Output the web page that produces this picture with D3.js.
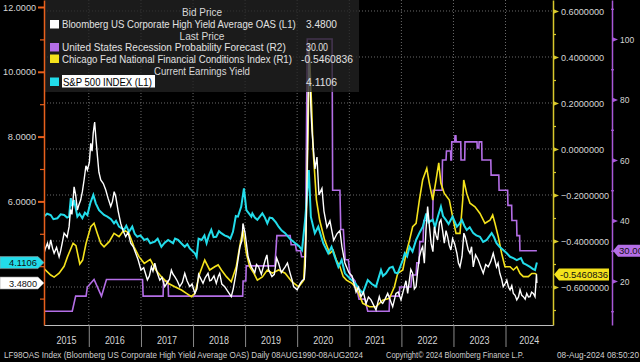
<!DOCTYPE html>
<html>
<head>
<meta charset="utf-8">
<script src="https://cdn.jsdelivr.net/npm/d3@7"></script>
<style>
html, body { margin: 0; padding: 0; background: #000; }
svg { display: block; font-family: "Liberation Sans", Arial, sans-serif; }
</style>
</head>
<body>
<script>
// Bloomberg US Corporate High Yield Average OAS (L1)
var oasData = [
  ["2015-02-21",4.40],["2015-03-03",4.55],["2015-03-17",4.71],["2015-03-28",4.52],["2015-04-09",4.81],
  ["2015-04-22",4.55],["2015-05-03",4.40],["2015-05-20",4.58],["2015-06-07",4.29],["2015-06-18",4.48],
  ["2015-06-28",4.70],["2015-07-12",5.02],["2015-08-02",4.90],["2015-08-16",5.22],["2015-08-26",5.75],
  ["2015-09-05",5.60],["2015-09-20",6.45],["2015-10-01",6.20],["2015-10-13",5.73],["2015-10-24",5.90],
  ["2015-11-05",6.04],["2015-11-17",6.30],["2015-11-29",6.66],["2015-12-12",7.10],["2015-12-22",6.97],
  ["2016-01-05",7.20],["2016-01-15",7.79],["2016-01-24",7.55],["2016-02-01",8.10],["2016-02-11",8.45],
  ["2016-02-19",8.00],["2016-03-02",7.38],["2016-03-12",6.90],["2016-03-25",6.66],["2016-04-12",6.55],
  ["2016-04-29",6.35],["2016-05-15",6.10],["2016-06-03",5.84],["2016-06-15",6.00],["2016-06-27",6.30],
  ["2016-07-08",6.15],["2016-07-25",5.70],["2016-08-12",5.32],["2016-08-28",5.10],["2016-09-16",4.91],
  ["2016-10-02",5.05],["2016-10-21",4.71],["2016-11-08",4.60],["2016-11-25",4.40],["2016-12-12",4.20],
  ["2017-01-01",3.88],["2017-01-20",3.95],["2017-02-15",3.58],["2017-03-01",3.70],["2017-03-15",3.98],
  ["2017-03-26",3.85],["2017-04-08",4.09],["2017-04-25",3.80],["2017-05-13",3.57],["2017-05-28",3.65],
  ["2017-06-17",3.37],["2017-07-05",3.50],["2017-07-20",3.60],["2017-08-02",3.88],["2017-08-14",3.75],
  ["2017-08-26",3.68],["2017-09-12",3.55],["2017-09-30",3.37],["2017-10-18",3.50],["2017-11-04",3.78],
  ["2017-11-20",3.55],["2017-12-09",3.37],["2017-12-25",3.45],["2018-01-14",3.16],["2018-01-28",3.30],
  ["2018-02-09",3.75],["2018-02-17",3.68],["2018-03-12",3.47],["2018-03-28",3.65],["2018-04-16",3.78],
  ["2018-04-28",3.55],["2018-05-09",3.57],["2018-05-28",3.70],["2018-06-13",3.47],["2018-06-28",3.70],
  ["2018-07-07",3.78],["2018-07-22",3.45],["2018-08-11",3.37],["2018-08-28",3.25],["2018-09-26",3.06],
  ["2018-10-10",3.30],["2018-10-28",3.75],["2018-11-12",4.19],["2018-11-26",4.60],["2018-12-10",4.80],
  ["2018-12-17",5.32],["2019-01-01",5.02],["2019-01-22",4.29],["2019-02-14",3.98],["2019-03-10",3.80],
  ["2019-03-22",4.05],["2019-04-06",3.98],["2019-04-25",3.75],["2019-05-22",4.19],["2019-06-03",4.35],
  ["2019-06-15",3.90],["2019-07-08",3.68],["2019-07-25",3.75],["2019-08-10",4.25],["2019-08-24",4.09],
  ["2019-09-12",3.80],["2019-10-09",3.98],["2019-10-25",4.10],["2019-11-13",3.78],["2019-11-28",3.55],
  ["2019-12-07",3.37],["2020-01-01",3.27],["2020-01-23",3.47],["2020-02-05",3.55],["2020-02-20",3.60],
  ["2020-02-27",4.00],["2020-03-10",6.50],["2020-03-23",10.87],["2020-04-07",8.80],["2020-04-14",8.20],
  ["2020-05-05",7.00],["2020-05-19",7.37],["2020-06-02",6.20],["2020-06-23",6.40],["2020-07-07",5.70],
  ["2020-07-28",5.20],["2020-08-18",5.40],["2020-09-13",4.80],["2020-10-06",5.00],["2020-10-27",5.10],
  ["2020-11-10",4.60],["2020-12-01",4.10],["2020-12-29",3.80],["2021-01-20",3.70],["2021-02-17",3.20],
  ["2021-03-05",3.35],["2021-03-24",3.06],["2021-04-10",3.20],["2021-04-28",2.85],["2021-05-15",3.05],
  ["2021-06-02",2.96],["2021-06-20",2.80],["2021-07-07",2.65],["2021-07-30",3.06],["2021-08-10",2.90],
  ["2021-08-23",2.85],["2021-09-10",3.00],["2021-09-27",3.16],["2021-10-15",2.95],["2021-11-01",2.75],
  ["2021-11-24",3.16],["2021-12-10",3.20],["2021-12-29",2.96],["2022-01-22",3.37],["2022-02-02",3.55],
  ["2022-02-14",3.16],["2022-03-08",3.90],["2022-03-21",3.78],["2022-04-02",3.30],["2022-04-14",3.37],
  ["2022-04-25",3.85],["2022-05-07",4.29],["2022-05-20",4.50],["2022-05-30",4.60],["2022-06-11",4.09],
  ["2022-06-22",5.10],["2022-07-04",5.84],["2022-07-15",5.30],["2022-07-28",4.71],["2022-08-10",4.45],
  ["2022-08-20",5.22],["2022-09-01",4.95],["2022-09-12",4.81],["2022-09-25",5.35],["2022-10-05",5.43],
  ["2022-10-17",5.10],["2022-10-29",4.71],["2022-11-10",5.10],["2022-11-21",4.91],["2022-12-02",4.65],
  ["2022-12-14",4.50],["2022-12-26",4.85],["2023-01-08",4.71],["2023-01-25",4.40],["2023-02-05",4.10],
  ["2023-02-16",3.98],["2023-03-02",4.30],["2023-03-15",5.02],["2023-03-25",4.90],["2023-04-04",4.71],
  ["2023-04-15",4.50],["2023-04-27",4.40],["2023-05-08",4.60],["2023-05-20",3.98],["2023-06-05",4.35],
  ["2023-06-24",4.19],["2023-07-10",4.00],["2023-07-29",3.78],["2023-08-15",4.05],["2023-09-02",3.98],
  ["2023-09-20",4.15],["2023-10-07",4.40],["2023-10-18",4.20],["2023-10-30",3.98],["2023-11-10",4.10],
  ["2023-11-22",3.78],["2023-12-05",3.60],["2023-12-16",3.37],["2023-12-28",3.45],["2024-01-10",3.57],
  ["2024-01-22",3.35],["2024-02-02",3.27],["2024-02-14",3.40],["2024-02-25",3.16],["2024-03-08",3.10],
  ["2024-03-20",2.96],["2024-04-01",3.05],["2024-04-12",3.27],["2024-04-24",3.10],["2024-05-05",3.06],
  ["2024-05-18",2.98],["2024-05-29",3.16],["2024-06-10",3.05],["2024-06-21",3.06],["2024-07-02",3.20],
  ["2024-07-14",3.16],["2024-07-26",3.06],["2024-08-05",3.75],["2024-08-08",3.48]
];

// United States Recession Probability Forecast (R2)
var recessionData = [
  ["2015-02-21",10],["2015-09-07",10],["2015-10-01",15],["2015-12-13",15],["2015-12-22",18],
  ["2016-02-07",20.5],["2016-03-30",15],["2016-05-04",20.5],["2017-01-12",20.5],["2017-01-16",15],
  ["2017-06-05",15],["2017-06-08",20],["2017-07-10",20],["2017-07-13",15],["2018-12-15",15],
  ["2018-12-18",20],["2019-01-06",20],["2019-01-09",25],["2019-07-29",25],["2019-08-12",35],
  ["2019-11-13",35],["2019-11-20",32],["2019-12-20",32],["2019-12-27",30],["2020-01-25",30],
  ["2020-02-01",28],["2020-02-28",28],["2020-03-12",100],["2020-09-02",100],["2020-09-06",50],
  ["2020-10-27",50],["2020-11-02",37],["2020-11-20",37],["2020-12-03",27],["2020-12-25",27],
  ["2021-01-06",22],["2021-02-10",20],["2021-03-10",14],["2021-04-20",14],["2021-05-10",10],
  ["2021-10-07",10],["2021-10-11",15],["2021-12-16",15],["2021-12-21",18],["2022-03-09",18],
  ["2022-03-14",22],["2022-04-14",22],["2022-04-19",26],["2022-05-05",26],["2022-05-10",33],
  ["2022-06-02",33],["2022-06-07",40],["2022-08-08",40],["2022-08-12",50],["2022-10-13",50],
  ["2022-10-16",60],["2022-11-10",60],["2022-11-13",63],["2022-12-12",63],["2022-12-14",60],
  ["2022-12-18",60],["2022-12-20",66],["2023-01-10",66],["2023-01-12",68],["2023-01-18",68],
  ["2023-01-20",66],["2023-02-21",66],["2023-02-23",60],["2023-03-21",60],["2023-03-23",66],
  ["2023-06-15",66],["2023-06-17",64],["2023-06-28",64],["2023-06-30",66],["2023-07-18",66],
  ["2023-07-20",60],["2023-09-20",60],["2023-09-22",55],["2023-11-15",55],["2023-11-17",50],
  ["2024-01-16",50],["2024-01-18",45],["2024-02-13",45],["2024-02-15",40],["2024-03-19",40],
  ["2024-03-21",35],["2024-04-09",35],["2024-04-11",30],["2024-08-08",30]
];

// Chicago Fed National Financial Conditions Index (R1)
var nfciData = [
  ["2015-02-21",-0.52],["2015-04-09",-0.548],["2015-05-03",-0.557],["2015-06-07",-0.54],["2015-07-12",-0.51],
  ["2015-08-05",-0.468],["2015-09-13",-0.41],["2015-10-03",-0.42],["2015-10-30",-0.50],["2015-11-19",-0.483],
  ["2015-12-13",-0.41],["2016-01-15",-0.338],["2016-02-07",-0.323],["2016-03-01",-0.367],["2016-03-25",-0.41],
  ["2016-04-17",-0.425],["2016-05-23",-0.403],["2016-06-26",-0.367],["2016-07-31",-0.381],["2016-09-04",-0.352],
  ["2016-10-09",-0.367],["2016-11-13",-0.425],["2016-12-18",-0.468],["2017-01-24",-0.497],["2017-03-07",-0.48],
  ["2017-04-15",-0.526],["2017-05-24",-0.555],["2017-07-10",-0.584],["2017-08-26",-0.599],["2017-10-12",-0.613],
  ["2017-11-16",-0.628],["2017-12-21",-0.642],["2018-01-14",-0.628],["2018-02-17",-0.541],["2018-03-24",-0.483],
  ["2018-04-28",-0.526],["2018-06-02",-0.512],["2018-06-26",-0.504],["2018-07-19",-0.526],["2018-08-23",-0.555],
  ["2018-09-26",-0.577],["2018-10-31",-0.512],["2018-11-24",-0.425],["2018-12-17",-0.352],["2019-01-10",-0.454],
  ["2019-02-02",-0.512],["2019-03-04",-0.541],["2019-03-28",-0.57],["2019-05-02",-0.556],["2019-06-06",-0.526],
  ["2019-07-11",-0.54],["2019-08-24",-0.526],["2019-10-09",-0.54],["2019-11-25",-0.577],["2020-01-12",-0.599],
  ["2020-02-16",-0.57],["2020-03-03",-0.367],["2020-03-17",0.07],["2020-03-27",0.42],["2020-04-10",0.21],
  ["2020-04-22",-0.004],["2020-05-15",-0.22],["2020-06-07",-0.31],["2020-07-12",-0.396],["2020-08-17",-0.454],
  ["2020-09-09",-0.44],["2020-10-02",-0.483],["2020-10-26",-0.51],["2020-11-19",-0.555],["2020-12-12",-0.57],
  ["2021-01-20",-0.584],["2021-02-24",-0.61],["2021-04-05",-0.671],["2021-05-22",-0.686],["2021-07-07",-0.686],
  ["2021-08-23",-0.657],["2021-10-09",-0.649],["2021-11-13",-0.599],["2021-12-06",-0.541],["2022-01-11",-0.526],
  ["2022-02-03",-0.454],["2022-02-27",-0.396],["2022-03-21",-0.338],["2022-04-14",-0.323],["2022-05-07",-0.222],
  ["2022-05-30",-0.135],["2022-06-28",-0.084],["2022-07-16",-0.149],["2022-08-09",-0.222],["2022-09-01",-0.135],
  ["2022-09-20",-0.06],["2022-10-05",-0.149],["2022-10-29",-0.193],["2022-12-03",-0.222],["2022-12-26",-0.294],
  ["2023-01-19",-0.367],["2023-02-16",-0.367],["2023-03-07",-0.222],["2023-03-14",-0.135],["2023-04-04",-0.193],
  ["2023-04-27",-0.236],["2023-06-01",-0.251],["2023-07-06",-0.28],["2023-08-10",-0.323],["2023-09-14",-0.31],
  ["2023-10-03",-0.287],["2023-10-19",-0.323],["2023-11-11",-0.381],["2023-12-05",-0.454],["2023-12-28",-0.512],
  ["2024-02-02",-0.512],["2024-02-25",-0.526],["2024-03-20",-0.512],["2024-04-12",-0.541],["2024-05-05",-0.555],
  ["2024-06-09",-0.555],["2024-07-03",-0.541],["2024-07-26",-0.541],["2024-08-08",-0.5460836]
];

// S&P 500 INDEX current earnings yield (L1)
var spxData = [
  ["2015-02-21",5.53],["2015-03-15",5.62],["2015-04-09",5.58],["2015-04-28",5.45],["2015-05-26",5.48],
  ["2015-06-18",5.60],["2015-07-12",5.58],["2015-08-02",5.50],["2015-08-16",5.53],["2015-08-28",6.10],
  ["2015-09-08",5.85],["2015-09-20",6.04],["2015-10-13",5.53],["2015-10-28",5.62],["2015-11-17",5.48],
  ["2015-12-05",5.65],["2015-12-22",5.58],["2016-01-12",5.95],["2016-02-02",6.20],["2016-02-19",5.94],
  ["2016-03-13",5.73],["2016-04-17",5.58],["2016-05-10",5.53],["2016-06-05",5.45],["2016-06-26",5.32],
  ["2016-07-10",5.40],["2016-07-31",5.22],["2016-09-04",5.12],["2016-09-20",5.25],["2016-10-09",5.06],
  ["2016-11-01",5.22],["2016-11-18",5.00],["2016-12-06",4.91],["2016-12-28",4.95],["2017-01-24",4.81],
  ["2017-02-15",4.85],["2017-03-07",4.71],["2017-04-08",4.76],["2017-04-28",4.85],["2017-05-24",4.60],
  ["2017-06-15",4.72],["2017-07-10",4.81],["2017-08-14",4.71],["2017-08-28",4.85],["2017-09-18",4.81],
  ["2017-10-12",4.70],["2017-11-04",4.60],["2017-11-22",4.68],["2017-12-09",4.55],["2018-01-14",4.40],
  ["2018-01-26",4.29],["2018-02-09",4.85],["2018-03-02",4.81],["2018-03-22",4.95],["2018-04-06",4.71],
  ["2018-04-22",4.95],["2018-05-09",5.12],["2018-05-25",4.90],["2018-06-13",4.91],["2018-07-02",5.08],
  ["2018-07-18",5.02],["2018-08-10",4.95],["2018-09-03",4.91],["2018-09-20",4.85],["2018-10-08",5.06],
  ["2018-10-28",5.55],["2018-11-12",5.53],["2018-12-05",5.84],["2018-12-24",6.40],["2019-01-10",5.73],
  ["2019-02-14",5.53],["2019-02-21",5.63],["2019-03-10",5.50],["2019-03-28",5.43],["2019-05-02",5.63],
  ["2019-05-20",5.50],["2019-06-06",5.32],["2019-06-22",5.50],["2019-07-11",5.48],["2019-08-05",5.35],
  ["2019-08-24",5.22],["2019-09-15",5.10],["2019-10-09",5.02],["2019-11-10",4.85],["2019-12-19",4.71],
  ["2020-01-15",4.62],["2020-02-04",4.50],["2020-02-28",5.53],["2020-03-23",6.97],["2020-04-06",5.53],
  ["2020-05-04",5.02],["2020-05-28",5.22],["2020-07-02",4.71],["2020-08-06",4.40],["2020-08-29",4.60],
  ["2020-09-20",4.30],["2020-10-16",3.98],["2020-11-08",4.19],["2020-12-01",3.78],["2021-01-05",3.62],
  ["2021-02-12",3.47],["2021-03-10",3.30],["2021-04-05",3.16],["2021-05-10",3.57],["2021-06-08",3.45],
  ["2021-07-07",3.37],["2021-08-11",3.88],["2021-08-25",3.70],["2021-09-15",3.78],["2021-10-10",3.95],
  ["2021-11-01",3.98],["2021-11-18",3.80],["2021-12-06",3.78],["2022-01-11",4.19],["2022-01-25",4.40],
  ["2022-02-10",4.30],["2022-02-27",4.60],["2022-03-20",4.45],["2022-04-14",4.81],["2022-05-10",5.05],
  ["2022-05-31",5.22],["2022-06-24",5.63],["2022-07-10",5.35],["2022-08-09",5.43],["2022-08-25",5.20],
  ["2022-09-15",5.55],["2022-10-05",5.84],["2022-10-20",5.55],["2022-11-09",5.43],["2022-11-28",5.30],
  ["2022-12-26",5.53],["2023-01-25",5.22],["2023-02-10",5.30],["2023-03-01",5.43],["2023-03-18",5.25],
  ["2023-04-04",5.12],["2023-04-25",5.20],["2023-05-20",5.02],["2023-06-10",4.95],["2023-07-06",4.91],
  ["2023-07-28",4.75],["2023-08-22",4.81],["2023-09-26",5.02],["2023-10-12",4.90],["2023-10-30",4.71],
  ["2023-11-20",4.60],["2023-12-16",4.50],["2024-01-10",4.40],["2024-02-02",4.29],["2024-02-25",4.25],
  ["2024-03-20",4.19],["2024-04-18",4.25],["2024-05-05",4.09],["2024-05-25",4.05],["2024-06-21",3.98],
  ["2024-07-10",3.92],["2024-07-26",3.88],["2024-08-08",4.1106]
];

var leftTicks = [6, 8, 10, 12];
var leftMinor = [3, 4, 5, 7, 9, 11];
var r1Ticks = [-0.6, -0.4, -0.2, 0, 0.2, 0.4, 0.6];
var r1Minor = [-0.7, -0.5, -0.3, -0.1, 0.1, 0.3, 0.5];
var r2Ticks = [20, 40, 60, 80, 100];
var r2Minor = [10, 30, 50, 70, 90, 110];
var years = [2015, 2016, 2017, 2018, 2019, 2020, 2021, 2022, 2023, 2024];

var W = 640, H = 362;
var plot = {left: 44, right: 553, top: 0, bottom: 325};
var parse = d3.timeParse("%Y-%m-%d");

var colWhite = "#ffffff", colCyan = "#22dcea", colYellow = "#f4e21c", colPurple = "#b46ee6";
var colOrangeAxis = "#e8601c", colYellowAxis = "#d8c82c", colPurpleAxis = "#a858d8";
var labelCol = "#d6d6d6";

var svg = d3.select("body").append("svg").attr("width", W).attr("height", H);
svg.append("rect").attr("width", W).attr("height", H).attr("fill", "#000");

var x = d3.scaleTime().domain([parse("2015-02-21"), parse("2024-11-29")]).range([plot.left, plot.right]);
var yL = d3.scaleLinear().domain([2.185, 12.216]).range([plot.bottom, plot.top]);
var yR1 = d3.scaleLinear().domain([-0.7652, 0.6478]).range([plot.bottom, plot.top]);
var yR2 = d3.scaleLinear().domain([5.45, 112.9]).range([plot.bottom, plot.top]);

function yearDate(y) { return new Date(y, 0, 1); }

// grid
var grid = svg.append("g");
grid.selectAll(".hg").data(r1Ticks).enter().append("line")
  .attr("x1", plot.left).attr("x2", plot.right)
  .attr("y1", function(d) { return yR1(d); }).attr("y2", function(d) { return yR1(d); })
  .attr("stroke", "#6a6a6a").attr("stroke-width", 1).attr("stroke-dasharray", "1,2");
grid.selectAll(".vg").data(years.slice(1)).enter().append("line")
  .attr("x1", function(d) { return x(yearDate(d)); }).attr("x2", function(d) { return x(yearDate(d)); })
  .attr("y1", plot.top).attr("y2", plot.bottom)
  .attr("stroke", "#6a6a6a").attr("stroke-width", 1).attr("stroke-dasharray", "1,2");

// lines
svg.append("clipPath").attr("id", "clip").append("rect")
  .attr("x", plot.left).attr("y", plot.top).attr("width", plot.right - plot.left).attr("height", plot.bottom - plot.top);
var lines = svg.append("g").attr("clip-path", "url(#clip)");

function lineFor(scale) {
  return d3.line().x(function(d) { return x(parse(d[0])); }).y(function(d) { return scale(d[1]); });
}
lines.append("path").attr("d", lineFor(yR2)(recessionData)).attr("fill", "none").attr("stroke", colPurple).attr("stroke-width", 1.6);
lines.append("path").attr("d", lineFor(yR1)(nfciData)).attr("fill", "none").attr("stroke", colYellow).attr("stroke-width", 1.6);
lines.append("path").attr("d", lineFor(yL)(spxData)).attr("fill", "none").attr("stroke", colCyan).attr("stroke-width", 2);
lines.append("path").attr("d", lineFor(yL)(oasData)).attr("fill", "none").attr("stroke", colWhite).attr("stroke-width", 1.4);

// legend
var leg = svg.append("g");
leg.append("rect").attr("x", plot.left + 1).attr("y", 0).attr("width", 314).attr("height", 92)
  .attr("fill", "#232323").attr("opacity", 0.78);

// squeeze a text horizontally to a given width (keeps real bounding box)
function ltext(txt, xx, yy, len, anchor, col) {
  var t = leg.append("text").attr("x", 0).attr("y", 0).text(txt)
    .attr("font-size", 10.5).attr("fill", col || "#e2e2e2")
    .attr("text-anchor", anchor || "start");
  var w = t.node().getComputedTextLength();
  var s = len / w;
  t.attr("transform", "translate(" + xx + "," + yy + ") scale(" + s + ",1)");
  return t;
}
ltext("Bid Price", 202, 16, 40, "middle", "#d8d8d8");
ltext("Last Price", 202, 39.5, 45, "middle", "#d8d8d8");
ltext("Current Earnings Yield", 202, 74.5, 96, "middle", "#d8d8d8");

var legendRows = [
  {name: "Bloomberg US Corporate High Yield Average OAS  (L1)", col: colWhite, y: 28, len: 234, val: "3.4800", vx: 306, vlen: 31},
  {name: "United States Recession Probability Forecast  (R2)", col: colPurple, y: 51, len: 224, val: "30.00", vx: 306, vlen: 22},
  {name: "Chicago Fed National Financial Conditions Index  (R1)", col: colYellow, y: 62.5, len: 230, val: "-0.5460836", vx: 301, vlen: 52},
  {name: "S&P 500 INDEX  (L1)", col: colCyan, y: 85.5, len: 89, val: "4.1106", vx: 306, vlen: 31}
];
legendRows.forEach(function(r, i) {
  leg.append("rect").attr("x", 50).attr("y", r.y - 8).attr("width", 9).attr("height", 8.5).attr("fill", r.col);
  if (i === 3) {
    leg.append("rect").attr("x", 62).attr("y", r.y - 10.5).attr("width", 93).attr("height", 12.5).attr("fill", "#ffffff");
    ltext(r.name, 63, r.y, r.len, "start", "#000");
  } else {
    ltext(r.name, 62, r.y, r.len);
  }
  ltext(r.val, r.vx, r.y, r.vlen);
});

// axes
function styleText(sel, perChar, size) {
  sel.selectAll("text")
    .attr("fill", labelCol).attr("font-size", size || 9.5)
    .attr("font-family", "'Liberation Sans', Arial, sans-serif")
    .attr("textLength", function() { return this.textContent.length * perChar; })
    .attr("lengthAdjust", "spacingAndGlyphs");
}

var gL = svg.append("g").attr("transform", "translate(" + plot.left + ",0)")
  .call(d3.axisLeft(yL).tickValues(leftTicks).tickFormat(d3.format(".4f")).tickSize(6).tickSizeOuter(0).tickPadding(2));
gL.select(".domain").attr("stroke", colOrangeAxis).attr("stroke-width", 1.5);
gL.selectAll(".tick line").attr("stroke", colOrangeAxis).attr("stroke-width", 2);
styleText(gL, 4.7);
svg.append("g").attr("transform", "translate(" + plot.left + ",0)")
  .call(d3.axisLeft(yL).tickValues(leftMinor).tickFormat("").tickSize(4).tickSizeOuter(0))
  .call(function(g) { g.select(".domain").remove(); g.selectAll(".tick line").attr("stroke", colOrangeAxis).attr("stroke-width", 1.2); });

var gR1 = svg.append("g").attr("transform", "translate(" + plot.right + ",0)")
  .call(d3.axisRight(yR1).tickValues(r1Ticks).tickFormat(d3.format(".7f")).tickSize(6).tickSizeOuter(0).tickPadding(2));
gR1.select(".domain").attr("stroke", colYellowAxis).attr("stroke-width", 1.5);
gR1.selectAll(".tick line").remove();
gR1.selectAll(".tick").append("path").attr("d", "M0,-2.5L6,0L0,2.5Z").attr("fill", colYellowAxis);
styleText(gR1, 4.8);
svg.append("g").attr("transform", "translate(" + plot.right + ",0)")
  .call(d3.axisRight(yR1).tickValues(r1Minor).tickFormat("").tickSize(3).tickSizeOuter(0))
  .call(function(g) { g.select(".domain").remove(); g.selectAll(".tick line").attr("stroke", colYellowAxis).attr("stroke-width", 1.2); });

var r2x = 612;
var gR2 = svg.append("g").attr("transform", "translate(" + r2x + ",0)")
  .call(d3.axisRight(yR2).tickValues(r2Ticks).tickFormat(d3.format("d")).tickSize(6).tickSizeOuter(0).tickPadding(2));
gR2.select(".domain").attr("stroke", colPurpleAxis).attr("stroke-width", 1.5);
gR2.selectAll(".tick line").remove();
gR2.selectAll(".tick").append("path").attr("d", "M0,-2.5L6,0L0,2.5Z").attr("fill", colPurpleAxis);
styleText(gR2, 4.7);
svg.append("g").attr("transform", "translate(" + (r2x - 1) + ",0)")
  .call(d3.axisRight(yR2).tickValues(r2Minor).tickFormat("").tickSize(3).tickSizeOuter(0))
  .call(function(g) { g.select(".domain").remove(); g.selectAll(".tick line").attr("stroke", colPurpleAxis).attr("stroke-width", 1.2); });

var gX = svg.append("g").attr("transform", "translate(0," + plot.bottom + ")")
  .call(d3.axisBottom(x).tickValues(years.slice(1).map(yearDate)).tickFormat("").tickSize(22).tickSizeOuter(0));
gX.select(".domain").attr("stroke", "#bdbdbd").attr("stroke-width", 1.2);
gX.selectAll(".tick line").attr("stroke", "#8a8a8a").attr("stroke-width", 1);

svg.append("g").selectAll("text").data(years).enter().append("text")
  .attr("x", function(d) {
    var a = Math.max(x(yearDate(d)), plot.left), b = Math.min(x(yearDate(d + 1)), plot.right);
    return (a + b) / 2;
  })
  .attr("y", 344).attr("text-anchor", "middle").attr("font-size", 10).attr("fill", labelCol)
  .attr("textLength", 20).attr("lengthAdjust", "spacingAndGlyphs")
  .text(function(d) { return d; });

// last value tags
function leftTag(val, scale, fill, label) {
  var yy = scale(val);
  svg.append("path")
    .attr("d", "M0," + (yy - 6) + "L38," + (yy - 6) + "L44," + yy + "L38," + (yy + 6) + "L0," + (yy + 6) + "Z")
    .attr("fill", fill).attr("stroke", "#9a9a9a").attr("stroke-width", 0.6);
  svg.append("text").attr("x", 37).attr("y", yy + 3.5).attr("text-anchor", "end")
    .attr("font-size", 9.5).attr("fill", "#111").attr("textLength", 28).attr("lengthAdjust", "spacingAndGlyphs")
    .text(label);
}
function rightTag(val, scale, tipX, endX, fill, label, len) {
  var yy = scale(val);
  svg.append("path")
    .attr("d", "M" + tipX + "," + yy + "L" + (tipX + 5) + "," + (yy - 6) + "L" + endX + "," + (yy - 6) + "L" + endX + "," + (yy + 6) + "L" + (tipX + 5) + "," + (yy + 6) + "Z")
    .attr("fill", fill);
  svg.append("text").attr("x", tipX + 6).attr("y", yy + 3.5)
    .attr("font-size", 9.5).attr("fill", "#111").attr("textLength", len).attr("lengthAdjust", "spacingAndGlyphs")
    .text(label);
}
leftTag(4.1106, yL, colCyan, "4.1106");
leftTag(3.48, yL, "#ffffff", "3.4800");
rightTag(-0.5460836, yR1, plot.right + 1, 609, colYellow, "-0.5460836", 48);
rightTag(30, yR2, r2x + 1, 646, colPurple, "30.00", 24);

// footer
function ftext(txt, xx, len) {
  svg.append("text").attr("x", xx).attr("y", 358).attr("font-size", 8.5).attr("fill", "#cfcfcf")
    .attr("textLength", len).attr("lengthAdjust", "spacingAndGlyphs").text(txt);
}
ftext("LF98OAS Index (Bloomberg US Corporate High Yield Average OAS)  Daily 08AUG1990-08AUG2024", 4, 359);
ftext("Copyright\u00a9 2024 Bloomberg Finance L.P.", 386, 138);
ftext("08-Aug-2024 08:50:20", 557, 82);
</script>
</body>
</html>
